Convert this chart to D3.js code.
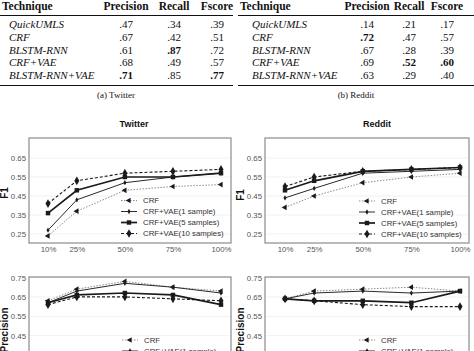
<!DOCTYPE html>
<html>
<head>
<meta charset="utf-8">
<script src="https://cdn.jsdelivr.net/npm/d3@7"></script>
<style>
  body { margin: 0; background: #fff; }
  svg { display: block; }
</style>
</head>
<body>
<div id="chart-area"></div>
<script>
// tables
const tableHeaders = ["Technique", "Precision", "Recall", "Fscore"]
const techniques = ["QuickUMLS", "CRF", "BLSTM-RNN", "CRF+VAE", "BLSTM-RNN+VAE"]
const twitterScores = [
  [".47", ".34", ".39"],
  [".67", ".42", ".51"],
  [".61", ".87", ".72"],
  [".68", ".49", ".57"],
  [".71", ".85", ".77"]
]
const twitterBest = [[2, 1], [4, 0], [4, 2]]
const redditScores = [
  [".14", ".21", ".17"],
  [".72", ".47", ".57"],
  [".67", ".28", ".39"],
  [".69", ".52", ".60"],
  [".63", ".29", ".40"]
]
const redditBest = [[1, 0], [3, 1], [3, 2]]

// line charts
const ratios = [10, 25, 50, 75, 100]
const seriesNames = ["CRF", "CRF+VAE(1 sample)", "CRF+VAE(5 samples)", "CRF+VAE(10 samples)"]
const twitterF1 = [
  [0.24, 0.37, 0.48, 0.50, 0.51],
  [0.27, 0.43, 0.52, 0.55, 0.57],
  [0.36, 0.48, 0.55, 0.55, 0.57],
  [0.41, 0.53, 0.57, 0.58, 0.59]
]
const redditF1 = [
  [0.39, 0.45, 0.52, 0.55, 0.57],
  [0.44, 0.49, 0.57, 0.58, 0.59],
  [0.48, 0.53, 0.58, 0.59, 0.60],
  [0.50, 0.55, 0.58, 0.59, 0.60]
]
const twitterPrecision = [
  [0.63, 0.69, 0.73, 0.70, 0.68],
  [0.62, 0.68, 0.72, 0.70, 0.67],
  [0.62, 0.66, 0.67, 0.66, 0.61],
  [0.61, 0.65, 0.65, 0.64, 0.63]
]
const redditPrecision = [
  [0.64, 0.68, 0.69, 0.70, 0.68],
  [0.64, 0.67, 0.68, 0.67, 0.68],
  [0.64, 0.63, 0.63, 0.62, 0.68],
  [0.64, 0.63, 0.61, 0.60, 0.60]
]
const f1Ticks = [0.25, 0.35, 0.45, 0.55, 0.65]
const precisionTicks = [0.35, 0.45, 0.55, 0.65, 0.75]

const WIDTH = 474
const HEIGHT = 351
const SERIF = "'Liberation Serif', 'Times New Roman', serif"
const SANS = "'Liberation Sans', Arial, sans-serif"

const svg = d3.select("#chart-area").append("svg")
  .attr("width", WIDTH)
  .attr("height", HEIGHT)

// ---------- tables ----------
function drawTable(x0, x1, colX, nameX, scores, best, caption, captionX) {
  const g = svg.append("g").attr("font-family", SERIF).attr("fill", "#111")
  const rowY = d3.scaleLinear().domain([0, 4]).range([28, 79])

  g.append("text").attr("x", x0 + 2).attr("y", 10)
    .attr("font-size", "11.5px").attr("font-weight", "bold")
    .text(tableHeaders[0])
  tableHeaders.slice(1).forEach((h, j) => {
    g.append("text").attr("x", colX[j]).attr("y", 10)
      .attr("text-anchor", "middle")
      .attr("font-size", "11.5px").attr("font-weight", "bold")
      .text(h)
  })
  g.append("line").attr("x1", x0).attr("x2", x1).attr("y1", 15.5).attr("y2", 15.5)
    .attr("stroke", "#111").attr("stroke-width", 1)
  g.append("line").attr("x1", x0).attr("x2", x1).attr("y1", 85.5).attr("y2", 85.5)
    .attr("stroke", "#111").attr("stroke-width", 1.2)

  techniques.forEach((t, i) => {
    g.append("text").attr("x", nameX).attr("y", rowY(i))
      .attr("font-size", "11px").attr("font-style", "italic")
      .text(t)
    scores[i].forEach((s, j) => {
      const isBest = best.some(b => b[0] === i && b[1] === j)
      g.append("text").attr("x", colX[j]).attr("y", rowY(i))
        .attr("text-anchor", "middle")
        .attr("font-size", "11px")
        .attr("font-weight", isBest ? "bold" : "normal")
        .text(s)
    })
  })

  g.append("text").attr("x", captionX).attr("y", 98)
    .attr("text-anchor", "middle").attr("font-size", "9px")
    .text(caption)
}

drawTable(0, 233, [126, 174, 217], 9, twitterScores, twitterBest, "(a) Twitter", 116)
drawTable(238, 474, [367, 409, 447], 252, redditScores, redditBest, "(b) Reddit", 356)

// ---------- line charts ----------
const styles = [
  { stroke: "#8a8a8a", width: 1, dash: "1.5,1.5", symbol: d3.symbolTriangle, size: 14, rotate: -90 },
  { stroke: "#2a2a2a", width: 1, dash: null, symbol: d3.symbolDiamond, size: 8, rotate: 0 },
  { stroke: "#1a1a1a", width: 1.7, dash: null, symbol: d3.symbolSquare, size: 20, rotate: 0 },
  { stroke: "#1a1a1a", width: 1.1, dash: "3,2", symbol: d3.symbolDiamond, size: 22, rotate: 0 }
]

function drawChart(c) {
  const g = svg.append("g").attr("font-family", SANS)

  const x = d3.scaleLinear().domain([10, 100]).range(c.xRange)
  const y = d3.scaleLinear().domain(c.yDomain).range(c.yRange)

  // grid
  g.append("g").selectAll("line").data(c.ticks).join("line")
    .attr("x1", c.left).attr("x2", c.right)
    .attr("y1", d => y(d)).attr("y2", d => y(d))
    .attr("stroke", "#ededed").attr("stroke-width", 0.8)

  // y axis
  const yAxis = g.append("g")
    .attr("transform", `translate(${c.left}, 0)`)
    .call(d3.axisLeft(y).tickValues(c.ticks).tickFormat(d3.format(".2f")).tickSize(0).tickPadding(3))
  yAxis.select(".domain").remove()
  yAxis.selectAll("text").attr("font-size", "7.8px").attr("fill", "#555").attr("font-family", SANS)

  // x axis
  if (c.showX) {
    const xAxis = g.append("g")
      .attr("transform", `translate(0, ${c.bottom})`)
      .call(d3.axisBottom(x).tickValues(ratios).tickFormat(d => d + "%").tickSize(0).tickPadding(3))
    xAxis.select(".domain").remove()
    xAxis.selectAll("text").attr("font-size", "7.8px").attr("fill", "#555").attr("font-family", SANS)
  }

  // series
  const line = d3.line().x((d, i) => x(ratios[i])).y(d => y(d))
  c.values.forEach((vals, k) => {
    const st = styles[k]
    g.append("path").datum(vals)
      .attr("d", line)
      .attr("fill", "none")
      .attr("stroke", st.stroke)
      .attr("stroke-width", st.width)
      .attr("stroke-dasharray", st.dash)
    g.append("g").selectAll("path").data(vals).join("path")
      .attr("d", d3.symbol(st.symbol, st.size))
      .attr("transform", (d, i) => `translate(${x(ratios[i])}, ${y(d)}) rotate(${st.rotate})`)
      .attr("fill", "#1a1a1a")
  })

  // frame
  g.append("rect")
    .attr("x", c.left).attr("y", c.top)
    .attr("width", c.right - c.left).attr("height", c.bottom - c.top)
    .attr("fill", "none").attr("stroke", "#8c8c8c").attr("stroke-width", 1.2)

  // legend
  seriesNames.forEach((name, k) => {
    const st = styles[k]
    const ly = c.legendY + k * 11
    g.append("line")
      .attr("x1", c.legendX).attr("x2", c.legendX + 16)
      .attr("y1", ly).attr("y2", ly)
      .attr("stroke", st.stroke).attr("stroke-width", st.width)
      .attr("stroke-dasharray", st.dash)
    g.append("path")
      .attr("d", d3.symbol(st.symbol, st.size))
      .attr("transform", `translate(${c.legendX + 8}, ${ly}) rotate(${st.rotate})`)
      .attr("fill", "#1a1a1a")
    g.append("text")
      .attr("x", c.legendX + 22).attr("y", ly).attr("dy", "0.35em")
      .attr("font-size", "7.8px").attr("fill", "#333")
      .text(name)
  })

  // titles
  if (c.title) {
    g.append("text").attr("x", c.titleX).attr("y", 127)
      .attr("text-anchor", "middle").attr("font-size", "9px").attr("font-weight", "bold")
      .attr("fill", "#111").text(c.title)
  }
  g.append("text")
    .attr("transform", `translate(${c.labelX}, ${c.labelY}) rotate(-90)`)
    .attr("text-anchor", "middle").attr("font-size", "10px").attr("font-weight", "bold")
    .attr("fill", "#111").text(c.yLabel)
}

drawChart({
  left: 29, right: 231, top: 138, bottom: 243,
  xRange: [48, 221], yDomain: [0.25, 0.65], yRange: [234, 158], ticks: f1Ticks,
  values: twitterF1, showX: true, legendX: 121, legendY: 200.5,
  title: "Twitter", titleX: 134, yLabel: "F1", labelX: 8, labelY: 193
})
drawChart({
  left: 265, right: 469, top: 138, bottom: 243,
  xRange: [285, 460], yDomain: [0.25, 0.65], yRange: [234, 158], ticks: f1Ticks,
  values: redditF1, showX: true, legendX: 359, legendY: 201,
  title: "Reddit", titleX: 377, yLabel: "F1", labelX: 244, labelY: 195
})
drawChart({
  left: 29, right: 231, top: 277, bottom: 382,
  xRange: [48, 221], yDomain: [0.45, 0.75], yRange: [335.7, 277.5], ticks: precisionTicks,
  values: twitterPrecision, showX: false, legendX: 122, legendY: 340,
  title: null, yLabel: "Precision", labelX: 8, labelY: 330
})
drawChart({
  left: 265, right: 469, top: 277, bottom: 382,
  xRange: [285, 460], yDomain: [0.45, 0.75], yRange: [335.7, 277.5], ticks: precisionTicks,
  values: redditPrecision, showX: false, legendX: 359, legendY: 340,
  title: null, yLabel: "Precision", labelX: 244, labelY: 330
})
</script>
</body>
</html>
